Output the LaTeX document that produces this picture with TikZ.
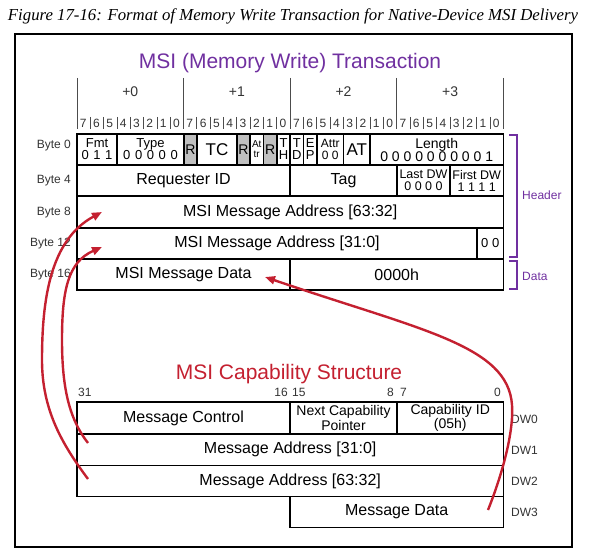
\documentclass[tikz,border=0pt]{standalone}
\usepackage{graphicx}
\usepackage{fontspec}
\newfontfamily\sans{Liberation Sans}
\newfontfamily\capfont{Liberation Serif}
\usetikzlibrary{arrows.meta}
\definecolor{msipurple}{RGB}{112,48,160}
\definecolor{msired}{RGB}{196,32,48}
\definecolor{lbl}{RGB}{51,51,51}
\definecolor{rgrey}{RGB}{192,192,192}
\newcommand{\fsb}[2]{\fontsize{#1}{#2}\selectfont}
\newcommand{\dsp}{\hspace{4.6pt}}
\newcommand{\mycell}[7][]{%
  \pgfmathsetmacro\cellw{#5-#3}%
  \pgfmathsetmacro\cellh{#6-#4}%
  \node[cell,minimum width=\cellw pt,minimum height=\cellh pt,#1] (#2) at ({(#3+#5)/2},{-(#4+#6)/2}) {#7};}
\tikzset{
  cell/.style={draw,line width=1.3pt,inner sep=0pt,align=center,font=\sans\fsb{16}{18}},
  rcell/.style={fill=rgrey,font=\sans\fsb{14}{14}},
  two/.style={font=\sans\fsb{13}{12}},
  lab/.style={inner sep=0pt,font=\sans\fsb{12}{12},text=lbl},
  bitnum/.style={inner sep=0pt,font=\sans\fsb{12}{12},text=lbl},
  tick/.style={draw=black!70,line width=0.9pt},
  brk/.style={draw=msipurple,line width=1.3pt},
  redarrow/.style={draw=msired,line width=2.4pt,-{Triangle[length=10pt,width=8pt]}},
}
\begin{document}
\begin{tikzpicture}[x=1pt,y=1pt]
\useasboundingbox (0,0) rectangle (594,-559);
% frame
\draw[line width=1.3pt] (15,-34) rectangle (572,-547);
% caption
\node[anchor=base,inner sep=0pt] (caption) at (293,-21) {\resizebox{570pt}{!}{\capfont\itshape Figure 17-16: Format of Memory Write Transaction for Native-Device MSI Delivery}};
% titles
\node[anchor=base,inner sep=0pt,text=msipurple,font=\sans\fsb{21}{21}] (ttitle) at (290,-69) {MSI (Memory Write) Transaction};
\node[anchor=base,inner sep=0pt,text=msired,font=\sans\fsb{21}{21}] (ctitle) at (289,-379) {MSI Capability Structure};
% byte headers
\foreach \b/\lbl in {0/+0,1/+1,2/+2,3/+3}{
  \pgfmathsetmacro\xx{77+(\b+0.5)*106.6}
  \node[inner sep=0pt,font=\sans\fsb{14}{14},text=lbl] (plus\b) at (\xx,-92) {\lbl};
}
\foreach \b in {0,...,4}{
  \pgfmathsetmacro\xx{77+\b*106.6}
  \draw[tick] (\xx,-78) -- (\xx,-129);
}
\foreach \b in {0,...,3}{
  \foreach \k in {0,...,7}{
    \pgfmathsetmacro\xx{77+(\b*8+\k+0.5)*13.325-0.5}
    \pgfmathtruncatemacro\dd{7-\k}
    \node[bitnum] (bit\b\k) at (\xx,-123.5) {\dd};
  }
  \foreach \k in {1,...,7}{
    \pgfmathsetmacro\xx{77+(\b*8+\k)*13.325}
    \draw[tick] (\xx,-117) -- (\xx,-129);
  }
}
% Byte 0 row
\mycell[two]{fmt}{77}{134}{117}{165}{Fmt\\0\dsp1\dsp1}
\mycell[two]{type}{117}{134}{184}{165}{Type\\0\dsp0\dsp0\dsp0\dsp0}
\mycell[rcell]{ra}{184}{134}{197}{165}{R}
\mycell[font=\sans\fsb{17}{17}]{tc}{197}{134}{237}{165}{TC}
\mycell[rcell]{rb}{237}{134}{250}{165}{R}
\mycell[font=\sans\fsb{10}{10}]{atr}{250}{134}{263.5}{165}{At\\tr}
\mycell[rcell]{rc}{263.5}{134}{277}{165}{R}
\mycell[two]{th}{277}{134}{290}{165}{T\\H}
\mycell[two]{td}{290}{134}{303.5}{165}{T\\D}
\mycell[two]{ep}{303.5}{134}{317}{165}{E\\P}
\mycell[font=\sans\fsb{12}{12}]{attr}{317}{134}{343.5}{165}{Attr\\0 0}
\mycell[font=\sans\fsb{17}{17}]{at}{343.5}{134}{370}{165}{AT}
\mycell[font=\sans\fsb{14}{13}]{len}{370}{134}{503.4}{165}{Length\\0 0 0 0 0 0 0 0 0 1}
% Byte 4 row
\mycell{req}{77}{165}{290}{196}{Requester ID}
\mycell{tag}{290}{165}{397}{196}{Tag}
\mycell[font=\sans\fsb{12.5}{12}]{ldw}{397}{165}{450}{196}{Last DW\\0 0 0 0}
\mycell[font=\sans\fsb{12.5}{12}]{fdw}{450}{165}{503.4}{196}{First DW\\1 1 1 1}
% Byte 8, 12, 16
\mycell{ahi}{77}{196}{503.4}{228}{MSI Message Address [63:32]}
\mycell{alo}{77}{228}{477}{259}{MSI Message Address [31:0]}
\mycell[font=\sans\fsb{13}{13}]{zz}{477}{228}{503.4}{259}{0 0}
\mycell{mdata}{77}{259}{290}{290}{MSI Message Data}
\mycell{zero}{290}{259}{503.4}{290}{0000h}
% byte labels
\node[lab,anchor=east] (b0) at (71,-146) {Byte 0};
\node[lab,anchor=east] (b4) at (71,-181) {Byte 4};
\node[lab,anchor=east] (b8) at (71,-212.5) {Byte 8};
\node[lab,anchor=east] (b12) at (71,-243.5) {Byte 12};
\node[lab,anchor=east] (b16) at (71,-274.5) {Byte 16};
% brackets
\draw[brk] (509,-135) -- (517,-135) -- (517,-257) -- (509,-257);
\draw[brk] (509,-261) -- (517,-261) -- (517,-289) -- (509,-289);
\node[inner sep=0pt,anchor=west,text=msipurple,font=\sans\fsb{12}{12}] (hdr) at (522,-195) {Header};
\node[inner sep=0pt,anchor=west,text=msipurple,font=\sans\fsb{12}{12}] (dat) at (522,-276) {Data};
% capability structure
\node[lab,anchor=west] (c31) at (78,-392) {31};
\node[lab,anchor=east] (c16) at (288,-392) {16};
\node[lab,anchor=west] (c15) at (292,-392) {15};
\node[lab,anchor=east] (c8) at (394,-392) {8};
\node[lab,anchor=west] (c7) at (400,-392) {7};
\node[lab,anchor=east] (c0) at (501,-392) {0};
\mycell{mctl}{77}{402}{290}{434}{Message Control}
\mycell[font=\sans\fsb{14}{12}]{ncp}{290}{402}{397}{434}{Next Capability\\Pointer}
\mycell[font=\sans\fsb{14}{12}]{cid}{397}{402}{503.4}{434}{Capability ID\\(05h)}
\mycell{cap1}{77}{434}{503.4}{465.5}{Message Address [31:0]}
\mycell{cap2}{77}{465.5}{503.4}{496.5}{Message Address [63:32]}
\mycell{cap3}{290}{496.5}{503.4}{527.5}{Message Data}
\node[lab,anchor=west] (dw0) at (511,-419) {DW0};
\node[lab,anchor=west] (dw1) at (511,-450) {DW1};
\node[lab,anchor=west] (dw2) at (511,-481) {DW2};
\node[lab,anchor=west] (dw3) at (511,-512) {DW3};
% connectors
\coordinate (s1) at (88,-443);
\coordinate (m1) at (62,-340);
\coordinate (t1) at (102,-247);
\coordinate (s2) at (88,-479);
\coordinate (m2) at (42,-360);
\coordinate (t2) at (102,-212);
\coordinate (s3) at (488,-510);
\coordinate (m3) at (512,-405);
\coordinate (t3) at (265,-277);
\draw[redarrow] (s1) .. controls (70,-420) and (62,-390) .. (m1) .. controls (62,-290) and (68,-262) .. (t1);
\draw[redarrow] (s2) .. controls (62,-444) and (42,-410) .. (m2) .. controls (42,-300) and (50,-240) .. (t2);
\draw[redarrow] (s3) .. controls (500,-480) and (514,-435) .. (m3) .. controls (508,-345) and (420,-330) .. (t3);
\end{tikzpicture}
\end{document}
